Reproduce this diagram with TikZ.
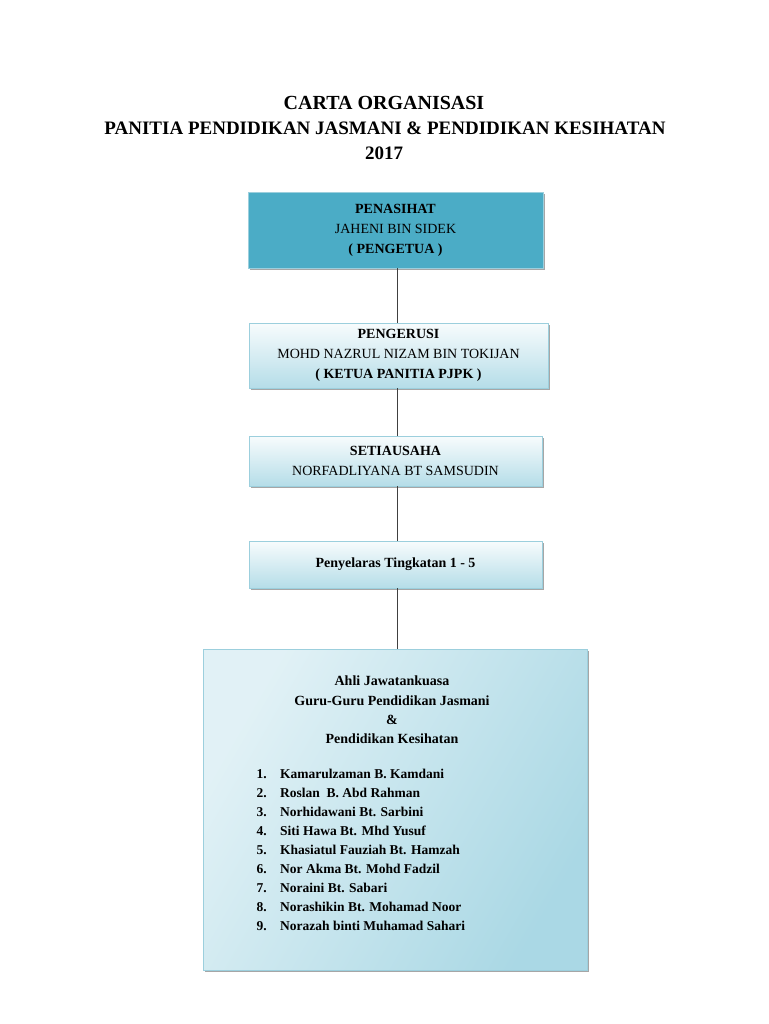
\documentclass[tikz,border=0pt]{standalone}
\usepackage{fontspec}
\setmainfont{Liberation Serif}
\usetikzlibrary{shadows}
\definecolor{topc}{HTML}{4BACC6}
\definecolor{lb}{HTML}{B5DDE8}
\definecolor{bordc}{HTML}{9CCFDD}
\begin{document}
\begin{tikzpicture}[x=1pt,y=-1pt,
  box/.style={draw=bordc,line width=0.8pt,inner sep=0pt,align=center,font=\fontsize{14}{20}\selectfont,
    drop shadow={shadow xshift=2pt,shadow yshift=-2pt,fill=black!35,opacity=1}},
  light/.style={box,top color=white!90!lb,bottom color=lb},
  conn/.style={draw=black!75,line width=1pt}]
\useasboundingbox (0,0) rectangle (768,1024);
\node[font=\fontsize{20}{22}\selectfont\bfseries] (t1) at (384,103) {CARTA ORGANISASI};
\node[font=\fontsize{19}{19}\selectfont\bfseries] (t2) at (385,128) {PANITIA PENDIDIKAN JASMANI \& PENDIDIKAN KESIHATAN};
\node[font=\fontsize{19}{19}\selectfont\bfseries] (t3) at (384,153) {2017};
\node[box,fill=topc,minimum width=295,minimum height=76] (a) at (395.5,230) {\textbf{PENASIHAT}\\JAHENI BIN SIDEK\\\textbf{( PENGETUA )}};
\node[light,minimum width=299,minimum height=65] (b) at (398.5,355.5) {\textbf{PENGERUSI}\\MOHD NAZRUL NIZAM BIN TOKIJAN\\\textbf{( KETUA PANITIA PJPK )}};
\node[light,minimum width=293,minimum height=50] (c) at (395.5,461) {\textbf{SETIAUSAHA}\\NORFADLIYANA BT SAMSUDIN};
\node[light,minimum width=293,minimum height=47] (d) at (395.5,564.5) {\textbf{Penyelaras Tingkatan 1 - 5}};
\node[box,shading=axis,left color=white!60!lb,right color=lb!90!topc,shading angle=60,minimum width=384,minimum height=321] (e) at (395,809.5) {};
\node[font=\fontsize{14}{19.3}\selectfont\bfseries,align=center] (eh) at (392,710) {Ahli Jawatankuasa\\Guru-Guru Pendidikan Jasmani\\\&\\Pendidikan Kesihatan};
\node[font=\fontsize{13.5}{18.9}\selectfont\bfseries,align=left,anchor=north west] (el) at (253,766) {%
1.\hspace{1em}Kamarulzaman B. Kamdani\\
2.\hspace{1em}Roslan\ \ B. Abd Rahman\\
3.\hspace{1em}Norhidawani Bt. Sarbini\\
4.\hspace{1em}Siti Hawa Bt. Mhd Yusuf\\
5.\hspace{1em}Khasiatul Fauziah Bt. Hamzah\\
6.\hspace{1em}Nor Akma Bt. Mohd Fadzil\\
7.\hspace{1em}Noraini Bt. Sabari\\
8.\hspace{1em}Norashikin Bt. Mohamad Noor\\
9.\hspace{1em}Norazah binti Muhamad Sahari};
\draw[conn] (a.south -| 397,0) -- (b.north -| 397,0);
\draw[conn] (b.south -| 397,0) -- (c.north -| 397,0);
\draw[conn] (c.south -| 397,0) -- (d.north -| 397,0);
\draw[conn] (d.south -| 397,0) -- (e.north -| 397,0);
\end{tikzpicture}
\end{document}
